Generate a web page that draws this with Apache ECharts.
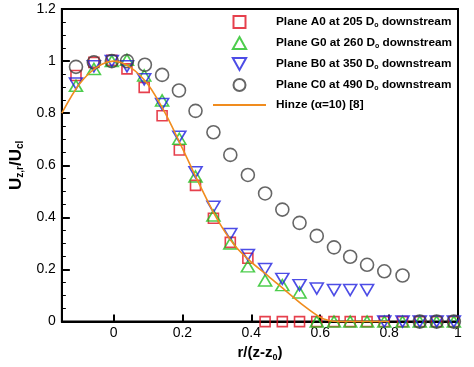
<!DOCTYPE html>
<html><head><meta charset="utf-8">
<script src="https://cdn.jsdelivr.net/npm/echarts@6/dist/echarts.min.js"></script>
<style>html,body{margin:0;padding:0;background:#fff}#c{width:474px;height:367px}</style>
</head><body><div id="c"></div>
<script>
// x positions (r/(z-z0)) of the measurement stations
const xA = [-0.109,-0.057,-0.005,0.039,0.089,0.141,0.191,0.238,0.290,0.339,0.390,0.440,0.490,0.540,0.590,0.640,0.687,0.736,0.786,0.839,0.889,0.938,0.988];
const yA0 = [0.945,0.995,1.003,0.970,0.899,0.790,0.659,0.523,0.397,0.304,0.243,0,0,0,0,0,0,0,0,0,0,0,0];
const xG = [-0.109,-0.057,-0.005,0.039,0.089,0.141,0.191,0.238,0.290,0.339,0.390,0.440,0.490,0.540,0.590,0.640,0.687,0.736,0.786,0.839,0.889,0.938,0.988];
const yG0 = [0.905,0.970,1.000,1.005,0.945,0.849,0.702,0.557,0.407,0.300,0.212,0.158,0.140,0.112,0,0,0,0,0,0,0,0,0];
const xB = [-0.109,-0.057,-0.005,0.039,0.089,0.141,0.191,0.238,0.290,0.339,0.390,0.440,0.490,0.540,0.590,0.640,0.687,0.736,0.786,0.839,0.889,0.938,0.988];
const yB0 = [0.914,0.980,1.000,0.980,0.930,0.835,0.710,0.573,0.441,0.336,0.256,0.202,0.164,0.140,0.127,0.121,0.121,0.121,0,0,0,0,0];
const xC = [-0.109,-0.057,-0.005,0.039,0.091,0.141,0.190,0.238,0.290,0.339,0.390,0.440,0.490,0.540,0.590,0.640,0.687,0.736,0.786,0.839,0.889,0.938,0.988];
const yC0 = [0.978,0.995,1.000,1.000,0.986,0.947,0.887,0.809,0.727,0.640,0.563,0.492,0.430,0.379,0.329,0.285,0.249,0.218,0.193,0.177,0,0,0];
// Hinze curve
const xH = [-0.15,-0.10,-0.05,0.00,0.05,0.10,0.15,0.20,0.25,0.30,0.35,0.40,0.45,0.50,0.55,0.60,0.625,0.65,0.80];
const yH = [0.800,0.910,0.975,1.000,0.975,0.910,0.800,0.665,0.525,0.395,0.295,0.228,0.174,0.118,0.063,0.016,0.004,0,0];
const xMajor = [0,0.2,0.4,0.6,0.8,1];
const names = ['Plane A0 at 205 Do downstream','Plane G0 at 260 Do downstream','Plane B0 at 350 Do downstream','Plane C0 at 490 Do downstream','Hinze (α=10) [8]'];

const zip = (xs, ys) => xs.map((x, i) => [x, ys[i]]);
const FONT = "'Liberation Sans', Arial, sans-serif";
const chart = echarts.init(document.getElementById('c'), null, {renderer: 'canvas'});

function scatter(name, data, color, symbol, size) {
  return {
    type: 'scatter', name, data, symbol, symbolSize: size,
    itemStyle: {color: 'rgba(255,255,255,0)', borderColor: color, borderWidth: 1.6},
    emphasis: {disabled: true}
  };
}

chart.setOption({
  animation: false,
  grid: {left: 55, right: 16, top: 9, bottom: 36, show: true, borderColor: '#000', borderWidth: 2, backgroundColor: 'transparent'},
  legend: {
    orient: 'vertical', left: 207, top: 10, itemWidth: 53, itemHeight: 12, itemGap: 7,
    selectedMode: false,
    data: [
      {name: names[0], icon: 'path://M0,0L10,0L10,10L0,10Z'},
      {name: names[1], icon: 'path://M5,0L10,9L0,9Z'},
      {name: names[2], icon: 'path://M0,0L10,0L5,9Z'},
      {name: names[3], icon: 'path://M0,6A6,6,0,1,1,12,6A6,6,0,1,1,0,6Z'},
      {name: names[4], itemStyle: {opacity: 0}}
    ],
    formatter: function (n) {
      return n.replace(/ Do /, ' D{sub|o} ');
    },
    textStyle: {
      fontFamily: FONT, fontSize: 11.8, fontWeight: 'bold', color: '#000', padding: [0, 0, 0, 5],
      rich: {sub: {fontFamily: FONT, fontSize: 7, fontWeight: 'bold', color: '#000', padding: [6, 0, 0, 0]}}
    }
  },
  xAxis: {
    type: 'value', min: -0.15, max: 1,
    name: 'r/(z-z{s|0})', nameLocation: 'middle', nameGap: 13,
    nameTextStyle: {fontFamily: FONT, fontSize: 15, fontWeight: 'bold', color: '#000',
      rich: {s: {fontFamily: FONT, fontSize: 9, fontWeight: 'bold', color: '#000', padding: [9, 0, 0, 0]}}},
    axisLine: {show: true, onZero: false, lineStyle: {color: '#000', width: 2}},
    axisTick: {show: true, inside: true, length: 7, customValues: xMajor, lineStyle: {color: '#000', width: 2}},
    axisLabel: {customValues: xMajor, fontFamily: FONT, fontSize: 14, color: '#000', margin: 5,
      formatter: v => String(Math.round(v * 10) / 10)},
    splitLine: {show: false}
  },
  yAxis: {
    type: 'value', min: 0, max: 1.2, interval: 0.2,
    name: '{b|U}{s|z,r}{b|/U}{s|cl}', nameLocation: 'middle', nameGap: 25,
    nameTextStyle: {fontFamily: FONT, fontWeight: 'bold', color: '#000',
      rich: {
        b: {fontFamily: FONT, fontSize: 17, fontWeight: 'bold', color: '#000'},
        s: {fontFamily: FONT, fontSize: 10, fontWeight: 'bold', color: '#000', padding: [8, 0, 0, 0]}
      }},
    axisLine: {show: true, onZero: false, lineStyle: {color: '#000', width: 2}},
    axisTick: {show: true, inside: true, length: 8, lineStyle: {color: '#000', width: 2}},
    minorTick: {show: true, splitNumber: 4, length: 4, lineStyle: {color: '#000', width: 1}},
    axisLabel: {fontFamily: FONT, fontSize: 14, color: '#000', margin: 6,
      formatter: v => String(Math.round(v * 10) / 10)},
    splitLine: {show: false}
  },
  series: [
    scatter(names[0], zip(xA, yA0), '#e01020', 'rect', 10),
    scatter(names[1], zip(xG, yG0), '#20c020', 'triangle', [13, 11]),
    scatter(names[2], zip(xB, yB0), '#2020e0', 'path://M0,0L10,0L5,9Z', [13, 11]),
    scatter(names[3], zip(xC, yC0), '#404040', 'circle', 13),
    {
      type: 'line', name: names[4], data: zip(xH, yH), symbol: 'none', smooth: 0.3,
      lineStyle: {color: '#f08c1e', width: 1.6}, itemStyle: {color: '#f08c1e'},
      emphasis: {disabled: true}, z: 5
    }
  ]
});
</script>
</body></html>
